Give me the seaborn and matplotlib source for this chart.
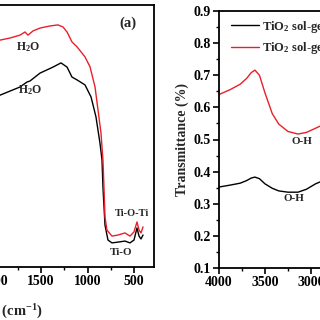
import matplotlib
matplotlib.use("Agg")
import matplotlib.pyplot as plt
from matplotlib.ticker import MultipleLocator
import numpy as np
import pandas as pd
import seaborn as sns

# ── data: panel (a), low-wavenumber region (scaled transmittance) ─────────
wn_a_red = [2000, 1940, 1833, 1726, 1672, 1640, 1586, 1511, 1457, 1403, 1317,
            1263, 1220, 1167, 1112, 1027, 973, 919, 887, 855, 834, 823, 812,
            791, 737, 672, 597, 543, 500, 468, 446, 425, 403]
tr_a_red = [0.863, 0.866, 0.874, 0.885, 0.897, 0.885, 0.901, 0.912, 0.916,
            0.920, 0.924, 0.916, 0.897, 0.859, 0.840, 0.802, 0.764, 0.687,
            0.599, 0.511, 0.408, 0.305, 0.191, 0.141, 0.118, 0.122, 0.130,
            0.118, 0.134, 0.172, 0.141, 0.130, 0.153]
wn_a_blk = [2000, 1940, 1726, 1651, 1618, 1511, 1371, 1285, 1220, 1167, 1112,
            1027, 962, 909, 866, 844, 834, 812, 780, 737, 672, 597, 543, 500,
            468, 446, 425, 403]
tr_a_blk = [0.650, 0.656, 0.687, 0.706, 0.710, 0.740, 0.763, 0.779, 0.763,
            0.725, 0.714, 0.695, 0.649, 0.573, 0.473, 0.408, 0.305, 0.160,
            0.103, 0.092, 0.095, 0.099, 0.092, 0.103, 0.149, 0.118, 0.107,
            0.122]

# ── data: right panel, high-wavenumber region ────────────────────────────
wn_b = [4000, 3880, 3770, 3700, 3650, 3609, 3560, 3500, 3420, 3350, 3250,
        3141, 3050, 2950, 2800]
tr_red = [0.640, 0.655, 0.672, 0.690, 0.708, 0.716, 0.700, 0.645, 0.580,
          0.548, 0.525, 0.517, 0.522, 0.535, 0.555]
tr_blk = [0.352, 0.358, 0.364, 0.372, 0.380, 0.383, 0.378, 0.362, 0.348,
          0.340, 0.336, 0.336, 0.345, 0.362, 0.380]

legend_labels = ["TiO$_2$ sol-gel (as-prepared)", "TiO$_2$ sol-gel (annealed)"]

sns.set_theme(style="ticks")
plt.rcParams["font.family"] = ["Liberation Serif", "DejaVu Serif"]
plt.rcParams["font.weight"] = "bold"
plt.rcParams["mathtext.fontset"] = "custom"
plt.rcParams["mathtext.rm"] = "Liberation Serif:bold"
plt.rcParams["mathtext.it"] = "Liberation Serif:bold:italic"
plt.rcParams["mathtext.default"] = "rm"

RED = "#e8202a"
fig = plt.figure(figsize=(3.2, 3.2), dpi=100)

# panel (a) – mostly outside the crop on the left
ax1 = fig.add_axes([-191.5 / 320, 53 / 320, 345.5 / 320, 262 / 320])
# right panel – mostly outside the crop on the right
ax2 = fig.add_axes([219 / 320, 52 / 320, 331 / 320, 257 / 320])

df_a = pd.concat([
    pd.DataFrame({"wn": wn_a_blk, "T": tr_a_blk, "s": "blk"}),
    pd.DataFrame({"wn": wn_a_red, "T": tr_a_red, "s": "red"}),
])
for s, c in [("blk", "black"), ("red", RED)]:
    sub = df_a[df_a["s"] == s]
    sns.lineplot(x=sub["wn"], y=sub["T"], ax=ax1, color=c, lw=1.0,
                 sort=False, estimator=None)
ax1.set_xlim(4000, 285)
ax1.set_ylim(0, 1)
ax1.xaxis.set_major_locator(MultipleLocator(500))
ax1.xaxis.set_minor_locator(MultipleLocator(250))
ax1.set_xlabel("")
ax1.set_ylabel("")
ax1.set_yticks([])
ax1.text(0.925, 0.93, "(a)", transform=ax1.transAxes, fontsize=10.5,
         fontweight="bold", ha="center", va="center")
ax1.annotate("H$_2$O", xy=(1640, 0.84), ha="center", va="center", fontsize=8.5)
ax1.annotate("H$_2$O", xy=(1618, 0.675), ha="center", va="center", fontsize=8.5)
ax1.annotate("Ti-O-Ti", xy=(520, 0.205), ha="center", va="center", fontsize=7.5)
ax1.annotate("Ti-O", xy=(640, 0.057), ha="center", va="center", fontsize=8)

df_b = pd.DataFrame({"wn": wn_b + wn_b, "T": tr_blk + tr_red,
                     "s": [legend_labels[0]] * len(wn_b) + [legend_labels[1]] * len(wn_b)})
sns.lineplot(data=df_b, x="wn", y="T", hue="s", palette=["black", RED],
             ax=ax2, lw=1.0, sort=False, estimator=None)
ax2.set_xlim(4000, 400)
ax2.set_ylim(0.1, 0.9)
ax2.xaxis.set_major_locator(MultipleLocator(500))
ax2.xaxis.set_minor_locator(MultipleLocator(250))
ax2.yaxis.set_major_locator(MultipleLocator(0.1))
ax2.yaxis.set_minor_locator(MultipleLocator(0.05))
ax2.yaxis.set_major_formatter(matplotlib.ticker.FormatStrFormatter("%.1f"))
ax2.set_xlabel("")
ax2.set_ylabel("Transmittance (%)", fontsize=10, fontweight="bold", labelpad=3)
ax2.annotate("O-H", xy=(3100, 0.495), ha="center", va="center", fontsize=8)
ax2.annotate("O-H", xy=(3180, 0.315), ha="center", va="center", fontsize=8)
ax2.legend(loc="upper left", bbox_to_anchor=(0.02, 0.99), frameon=False,
           fontsize=9, handlelength=2.3, handletextpad=0.2, labelspacing=0.45,
           borderaxespad=0)

for ax in (ax1, ax2):
    for sp in ax.spines.values():
        sp.set_linewidth(1.3)
        sp.set_color("black")
        sp.set_visible(True)
    ax.tick_params(which="major", direction="out", length=4, width=1.2,
                   labelsize=10, pad=2, colors="black")
    ax.tick_params(which="minor", direction="out", length=2.5, width=1.0,
                   colors="black")
    for lab in ax.get_xticklabels() + ax.get_yticklabels():
        lab.set_fontweight("bold")
    ax.grid(False)

fig.text(43 / 320, 1 - 312 / 320, "Wavenumber (cm$^{-1}$)", ha="right",
         va="center", fontsize=10.5, fontweight="bold")

fig.savefig("out.png", dpi=100)
